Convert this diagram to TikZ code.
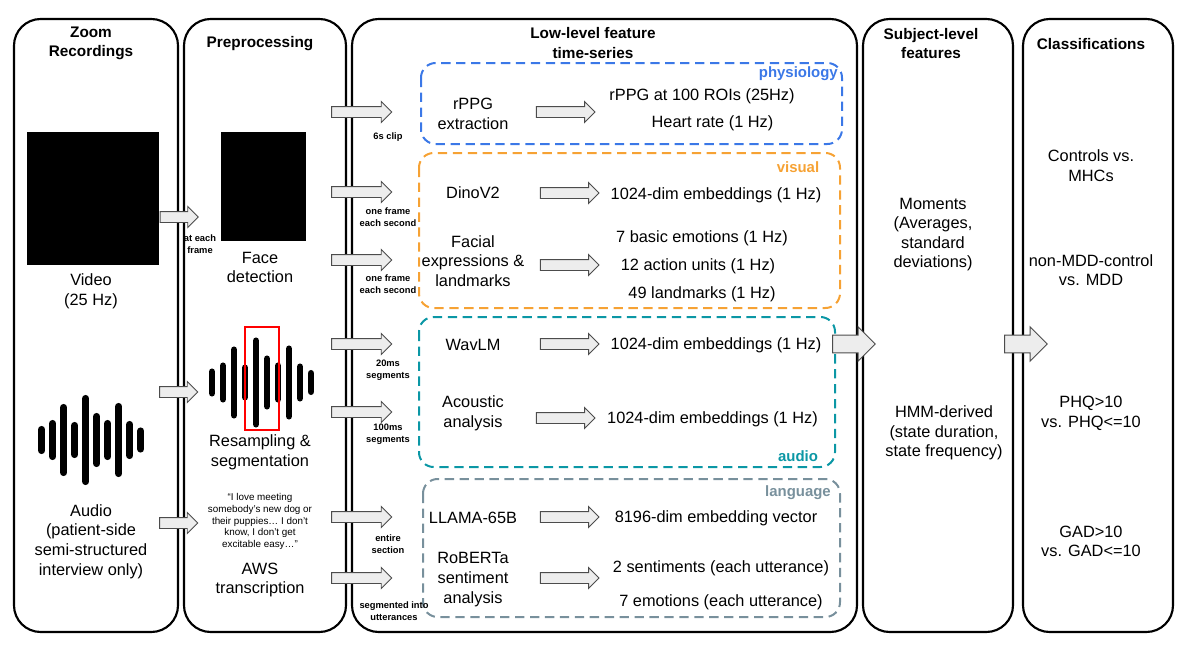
\documentclass[tikz,border=0pt]{standalone}
\usepackage{fontspec}
\setmainfont{Liberation Sans}
\usepackage{xcolor}
\usepackage{tikz}
\usetikzlibrary{shapes.arrows}

\definecolor{physblue}{HTML}{3B78E7}
\definecolor{visorange}{HTML}{F6A234}
\definecolor{audteal}{HTML}{0B97A5}
\definecolor{langgray}{HTML}{78909C}

\tikzset{
  panel/.style={draw=black, line width=1.6pt, rounded corners=20pt},
  dashbox/.style={line width=1.5pt, rounded corners=11pt, dash pattern=on 7pt off 4.2pt},
  body/.style={align=center, inner sep=0pt, yshift=-.8pt, font=\fontsize{12.25}{14.7}\selectfont},
  title/.style={align=center, inner sep=0pt, font=\fontsize{11.5}{14.7}\selectfont\bfseries},
  tag/.style={inner sep=0pt, font=\fontsize{11.2}{13}\selectfont\bfseries},
  step label/.style={align=center, inner sep=0pt, font=\fontsize{7}{8.9}\selectfont\bfseries},
  quote/.style={align=center, inner sep=0pt, font=\fontsize{7.4}{8.9}\selectfont},
  blockarrow/.style={single arrow, draw=black!70, fill=black!7, line width=.7pt, inner sep=0pt,
    text height=7.5pt, text depth=0pt, text width=1pt, xshift=-1.9pt,
    minimum width=15pt, single arrow head extend=3.75pt},
  shortarrow/.style={blockarrow, minimum height=28.5pt},
  longarrow/.style={blockarrow, minimum height=45pt},
  innerarrow/.style={blockarrow, minimum height=44pt},
  bigarrow/.style={blockarrow, minimum height=32pt, xshift=-1.5pt, text height=12.5pt, minimum width=25pt, single arrow head extend=6.25pt},
  waveform/.pic={
    \foreach \i/\h in {0/14,1/20,2/36,3/18,4/45,5/27,6/20,7/37,8/19,9/12.5}
      \draw[line width=5.2pt, line cap=round] (\i*11,-\h+3.4) -- (\i*11,\h-3.4);
  }
}

\begin{document}
\begin{tikzpicture}[x=.75pt,y=-.75pt]
\useasboundingbox (0,0) rectangle (1200,646);

% panels
\draw[panel] (14,19) rectangle (178,632);
\draw[panel] (184,19) rectangle (346,632);
\draw[panel] (352,19) rectangle (857,632);
\draw[panel] (863,19) rectangle (1013,632);
\draw[panel] (1023,19) rectangle (1173,632);

% dashed groups
\draw[dashbox, draw=physblue] (421,63) rectangle (842,144);
\draw[dashbox, draw=visorange] (419,153) rectangle (840,308);
\draw[dashbox, draw=audteal] (419,317) rectangle (835,467);
\draw[dashbox, draw=langgray] (423,479) rectangle (840,617);

% zoom recordings
\node[title] (recTitle) at (91,43.5) {Zoom\\Recordings};
\fill[black] (27,132) rectangle (159,265);
\node[body] (video) at (91,290) {Video\\(25 Hz)};
\pic at (41.7,440) {waveform};
\node[body] (audio) at (91,540.5) {Audio\\(patient-side\\semi-structured\\interview only)};

% preprocessing
\node[title] (preTitle) at (260,44) {Preprocessing};
\fill[black] (221,132) rectangle (306,241);
\node[body] (face) at (260,266.5) {Face\\detection};
\pic at (212,382.5) {waveform};
\draw[red, line width=1.3pt] (245,327) rectangle (279,430);
\node[body] (resample) at (260,451) {Resampling \&\\segmentation};
\node[quote] (quoteText) at (260,521.5) {“I love meeting\\somebody's new dog or\\their puppies… I don't\\know, I don't get\\excitable easy…”};
\node[body] (aws) at (260,579) {AWS\\transcription};

% low-level features
\node[title] (lowTitle) at (593,43) {Low-level feature\\time-series};
\node[tag, text=physblue, anchor=east] (physTag) at (838,74) {physiology};
\node[tag, text=visorange] (visTag) at (798,167) {visual};
\node[tag, text=audteal] (audTag) at (798,456) {audio};
\node[tag, text=langgray] (langTag) at (798,493) {language};

\node[body] (rppg) at (473,113) {rPPG\\extraction};
\node[body] (dino) at (473,192) {DinoV2};
\node[body] (facial) at (473,260) {Facial\\expressions \&\\landmarks};
\node[body] (wavlm) at (473,344) {WavLM};
\node[body] (acoustic) at (473,412.5) {Acoustic\\analysis};
\node[body] (llama) at (473,517) {LLAMA-65B};
\node[body] (roberta) at (473,578.5) {RoBERTa\\sentiment\\analysis};

\node[body] (rppgOut) at (702,95) {rPPG at 100 ROIs (25Hz)};
\node[body] (heartOut) at (712.5,122) {Heart rate (1 Hz)};
\node[body] (dinoOut) at (716,194) {1024-dim embeddings (1 Hz)};
\node[body] (emoOut) at (702,237) {7 basic emotions (1 Hz)};
\node[body] (auOut) at (698,265) {12 action units (1 Hz)};
\node[body] (lmOut) at (702,293) {49 landmarks (1 Hz)};
\node[body] (wavOut) at (716,344) {1024-dim embeddings (1 Hz)};
\node[body] (acoOut) at (712.5,418) {1024-dim embeddings (1 Hz)};
\node[body] (llamaOut) at (716,517) {8196-dim embedding vector};
\node[body] (sentOut) at (721,567) {2 sentiments (each utterance)};
\node[body] (utterOut) at (721,601) {7 emotions (each utterance)};

% subject-level features
\node[title] (subTitle) at (931,43.5) {Subject-level\\features};
\node[body] (moments) at (933,233.5) {Moments\\(Averages,\\standard\\deviations)};
\node[body] (hmm) at (944,432) {HMM-derived\\(state duration,\\state frequency)};

% classifications
\node[title] (clsTitle) at (1091,44) {Classifications};
\node[body] (clsOne) at (1091,164.5) {Controls vs.\\MHCs};
\node[body] (clsTwo) at (1091,269) {non-MDD-control\\vs. MDD};
\node[body] (clsThree) at (1091,412.5) {PHQ>10\\vs. PHQ<=10};
\node[body] (clsFour) at (1091,540.5) {GAD>10\\vs. GAD<=10};

% step labels
\node[step label] (frameLabel) at (200,244) {at each\\frame};
\node[step label] (clipLabel) at (388,137) {6s clip};
\node[step label] (oneLabel) at (388,217) {one frame\\each second};
\node[step label] (twoLabel) at (388,284) {one frame\\each second};
\node[step label] (msLabel) at (388,370) {20ms\\segments};
\node[step label] (hundredLabel) at (388,434) {100ms\\segments};
\node[step label] (entireLabel) at (388,544.5) {entire\\section};
\node[step label] (uttLabel) at (394,611) {segmented into\\utterances};

% arrows between panels
\node[shortarrow] (arrVideo) at (179,217) {};
\node[shortarrow] (arrAudio) at (178.5,392) {};
\node[shortarrow] (arrText) at (178.5,523) {};
\node[longarrow] (arrClip) at (361.5,112) {};
\node[longarrow] (arrDino) at (361.5,192) {};
\node[longarrow] (arrFacial) at (361.5,260) {};
\node[longarrow] (arrWav) at (361.5,344) {};
\node[longarrow] (arrAco) at (361.5,412) {};
\node[longarrow] (arrLlama) at (361.5,517) {};
\node[longarrow] (arrRob) at (361.5,578) {};

% arrows inside low-level panel
\node[innerarrow] (outRppg) at (565.5,112) {};
\node[innerarrow] (outDino) at (569.5,193) {};
\node[innerarrow] (outFacial) at (569.5,265) {};
\node[innerarrow] (outWav) at (569.5,344) {};
\node[innerarrow] (outAco) at (565.5,418) {};
\node[innerarrow] (outLlama) at (569.5,517) {};
\node[innerarrow] (outRob) at (569.5,578) {};

\node[bigarrow] (outLow) at (854,344) {};
\node[bigarrow] (outSub) at (1026,344) {};
\end{tikzpicture}
\end{document}
